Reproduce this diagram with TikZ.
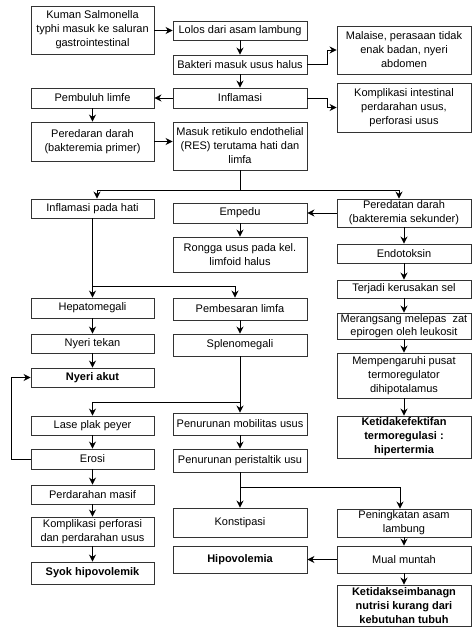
\documentclass[tikz,border=0pt]{standalone}
\usepackage{fontspec}
\setmainfont{Liberation Sans}
\usetikzlibrary{arrows.meta}

\tikzset{
  box/.style={draw=black!80, line width=0.9pt, fill=white, align=center, inner sep=1pt, font=\fontsize{11}{14}\selectfont},
  lbox/.style={box, minimum width=123pt},
  mbox/.style={box, minimum width=134pt},
  arr/.style={-{Stealth[length=7pt,width=7pt]}, line width=0.9pt},
  ln/.style={line width=0.9pt}
}

\begin{document}
\begin{tikzpicture}[x=1pt,y=-1pt]
        \useasboundingbox (0,0) rectangle (474,632);
        % left column
        \node[lbox, minimum height=48pt] (kuman) at (92.5,30) {Kuman Salmonella\\typhi masuk ke saluran\\gastrointestinal};
        \node[lbox, minimum height=20pt] (limfe) at (92.5,98) {Pembuluh limfe};
        \node[lbox, minimum height=39pt] (darah) at (92.5,141.5) {Peredaran darah\\(bakteremia primer)};
        \node[lbox, minimum height=19pt] (hati) at (92.5,208.5) {Inflamasi pada hati};
        \node[lbox, minimum height=20pt] (hepato) at (92.5,308) {Hepatomegali};
        \node[lbox, minimum height=19pt] (tekan) at (92.5,343.5) {Nyeri tekan};
        \node[lbox, minimum height=19pt, font=\fontsize{11}{14}\selectfont\bfseries] (akut) at (92.5,377.5) {Nyeri akut};
        \node[lbox, minimum height=19pt] (lase) at (92.5,425.5) {Lase plak peyer};
        \node[lbox, minimum height=20pt] (erosi) at (92.5,459) {Erosi};
        \node[lbox, minimum height=19pt] (masif) at (92.5,494.5) {Perdarahan masif};
        \node[lbox, minimum height=29pt] (perfor) at (92.5,531.5) {Komplikasi perforasi\\dan perdarahan usus};
        \node[lbox, minimum height=22pt, font=\fontsize{11}{14}\selectfont\bfseries] (syok) at (92.5,573) {Syok hipovolemik};
        % middle column
        \node[mbox, minimum height=19pt] (lolos) at (240,30.5) {Lolos dari asam lambung};
        \node[mbox, minimum height=19pt] (bakteri) at (240,64.5) {Bakteri masuk usus halus};
        \node[mbox, minimum height=20pt] (inflam) at (240,98) {Inflamasi};
        \node[mbox, minimum height=48pt] (res) at (240,146) {Masuk retikulo endothelial\\(RES) terutama hati dan\\limfa};
        \node[mbox, minimum height=20pt] (empedu) at (240,213) {Empedu};
        \node[mbox, minimum height=35pt] (rongga) at (240,254.5) {Rongga usus pada kel.\\limfoid halus};
        \node[mbox, minimum height=22pt] (limfa) at (240,309) {Pembesaran limfa};
        \node[mbox, minimum height=22pt] (spleno) at (240,345) {Splenomegali};
        \node[mbox, minimum height=22pt] (mobil) at (240,424) {Penurunan mobilitas usus};
        \node[mbox, minimum height=23pt] (peris) at (240,460.5) {Penurunan peristaltik usu};
        \node[mbox, minimum height=29pt] (konsti) at (240,522.5) {Konstipasi};
        \node[mbox, minimum height=27pt, font=\fontsize{11}{14}\selectfont\bfseries] (hipovol) at (240,559.5) {Hipovolemia};
        % right column
        \node[mbox, minimum height=48pt] (malaise) at (404,50) {Malaise, perasaan tidak\\enak badan, nyeri\\abdomen};
        \node[mbox, minimum height=49pt] (kompint) at (404,107.5) {Komplikasi intestinal\\perdarahan usus,\\perforasi usus};
        \node[mbox, minimum height=28pt] (sekunder) at (404,213) {Peredatan darah\\(bakteremia sekunder)};
        \node[mbox, minimum height=19pt] (endo) at (404,253.5) {Endotoksin};
        \node[mbox, minimum height=18pt] (sel) at (404,289) {Terjadi kerusakan sel};
        \node[mbox, minimum height=26pt, font=\fontsize{11}{12.5}\selectfont] (zat) at (404,326) {Merangsang melepas~ zat\\epirogen oleh leukosit};
        \node[mbox, minimum height=45pt] (pusat) at (404,375.5) {Mempengaruhi pusat\\termoregulator\\dihipotalamus};
        \node[mbox, minimum height=42pt, font=\fontsize{11}{14}\selectfont\bfseries] (termo) at (404,437) {Ketidakefektifan\\termoregulasi :\\hipertermia};
        \node[mbox, minimum height=28pt] (asam) at (404,523) {Peningkatan asam\\lambung};
        \node[mbox, minimum height=27pt] (mual) at (404,559.5) {Mual muntah};
        \node[mbox, minimum height=41pt, font=\fontsize{11}{14}\selectfont\bfseries] (nutrisi) at (404,605.5) {Ketidakseimbanagn\\nutrisi kurang dari\\kebutuhan tubuh};
        % branch points
        \coordinate (s1) at (240,190);
        \coordinate (s2) at (92.5,286);
        \coordinate (s3) at (240,402);
        \coordinate (s4) at (240,487);
        \coordinate (back) at (11,459);
        % connectors
        \draw[arr] (kuman.east |- lolos.west) -- (lolos.west);
        \draw[arr] (lolos) -- (bakteri);
        \draw[arr] (bakteri) -- (inflam);
        \draw[arr] (bakteri.east) -- ++(20,0) |- (malaise.west);
        \draw[arr] (inflam.east) -- ++(20,0) |- (kompint.west);
        \draw[arr] (inflam) -- (limfe);
        \draw[arr] (limfe) -- (darah);
        \draw[arr] (darah.east) -- (darah.east -| res.west);
        \draw[ln] (res.south) -- (s1);
        \draw[arr] (s1) -| ([xshift=4.5pt]hati.north);
        \draw[arr] (s1) -| ([xshift=-5pt]sekunder.north);
        \draw[arr] (sekunder) -- (empedu);
        \draw[arr] (empedu) -- (rongga);
        \draw[arr] (hati) -- (hepato);
        \draw[arr] (s2) -| ([xshift=-5pt]limfa.north);
        \draw[arr] (hepato) -- (tekan);
        \draw[arr] (tekan) -- (akut);
        \draw[arr] (limfa) -- (spleno);
        \draw[ln] (spleno.south) -- (s3);
        \draw[arr] (s3) -- (mobil);
        \draw[arr] (s3) -| (lase.north);
        \draw[arr] (lase) -- (erosi);
        \draw[arr] (erosi) -- (masif);
        \draw[arr] (masif) -- (perfor);
        \draw[arr] (perfor) -- (syok);
        \draw[arr] (erosi.west) -- (back) |- (akut.west);
        \draw[arr] (mobil) -- (peris);
        \draw[ln] (peris.south) -- (s4);
        \draw[arr] (s4) -- (konsti);
        \draw[arr] (s4) -| ([xshift=-4pt]asam.north);
        \draw[arr] (sekunder) -- (endo);
        \draw[arr] (endo) -- (sel);
        \draw[arr] (sel) -- (zat);
        \draw[arr] (zat) -- (pusat);
        \draw[arr] (pusat) -- (termo);
        \draw[arr] (asam) -- (mual);
        \draw[arr] (mual) -- (hipovol);
        \draw[arr] (mual) -- (nutrisi);
\end{tikzpicture}
\end{document}
